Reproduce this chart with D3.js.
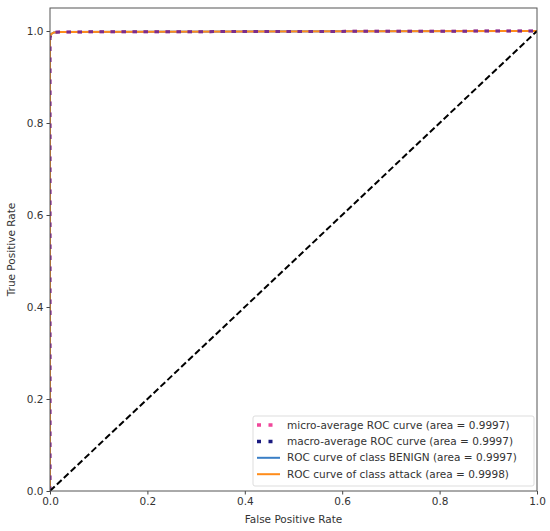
<!DOCTYPE html>
<html>
<head>
<meta charset="utf-8">
<script src="https://cdn.jsdelivr.net/npm/d3@7"></script>
<style>
  body { margin: 0; background: #fff; }
  text { font-family: "DejaVu Sans", sans-serif; fill: #333; }
</style>
</head>
<body>
<svg id="roc"></svg>
<script>
// ROC points
const fprMicro = [0, 0, 0.002, 0.008, 0.02, 1];
const tprMicro = [0, 0.985, 0.993, 0.997, 0.998, 1];
const fprMacro = [0, 0, 0.002, 0.008, 0.02, 1];
const tprMacro = [0, 0.985, 0.993, 0.997, 0.998, 1];
const fprBenign = [0, 0, 0.002, 0.008, 0.02, 1];
const tprBenign = [0, 0.985, 0.993, 0.997, 0.998, 1];
const fprAttack = [0, 0, 0.002, 0.008, 0.02, 1];
const tprAttack = [0, 0.985, 0.993, 0.997, 0.998, 1];
const diagX = [0, 1];
const diagY = [0, 1];
const tickValues = [0, 0.2, 0.4, 0.6, 0.8, 1.0];
const legendLabels = [
  "micro-average ROC curve (area = 0.9997)",
  "macro-average ROC curve (area = 0.9997)",
  "ROC curve of class BENIGN (area = 0.9997)",
  "ROC curve of class attack (area = 0.9998)"
];

const width = 550, height = 531;
const margin = { top: 8, right: 13, bottom: 40, left: 50 };
const plotW = width - margin.left - margin.right;
const plotH = height - margin.top - margin.bottom;

const svg = d3.select("#roc").attr("width", width).attr("height", height);

const x = d3.scaleLinear().domain([0, 1]).range([0, plotW]);
const y = d3.scaleLinear().domain([0, 1.05]).range([plotH, 0]);

const g = svg.append("g").attr("transform", `translate(${margin.left},${margin.top})`);

const line = d3.line().x(d => x(d[0])).y(d => y(d[1]));
const zip = (a, b) => a.map((v, i) => [v, b[i]]);

const series = [
  { pts: zip(fprBenign, tprBenign), color: "#3a7fc6", width: 2, dash: null },
  { pts: zip(fprAttack, tprAttack), color: "#ff8c1a", width: 2, dash: null },
  { pts: zip(fprMicro, tprMicro), color: "#f0479b", width: 3, dash: "4.5,6.5" },
  { pts: zip(fprMacro, tprMacro), color: "#1a1a80", width: 3, dash: "4.5,6.5", opacity: 0.55 }
];

g.append("defs").append("clipPath").attr("id", "clip")
  .append("rect").attr("width", plotW).attr("height", plotH);

const curves = g.append("g").attr("clip-path", "url(#clip)");
series.forEach(s => {
  curves.append("path")
    .attr("d", line(s.pts))
    .attr("fill", "none")
    .attr("stroke", s.color)
    .attr("stroke-width", s.width)
    .attr("stroke-dasharray", s.dash)
    .attr("stroke-opacity", s.opacity || 1);
});

// chance line
curves.append("path")
  .attr("d", line(zip(diagX, diagY)))
  .attr("fill", "none")
  .attr("stroke", "#000")
  .attr("stroke-width", 2)
  .attr("stroke-dasharray", "6.5,3");

// axes
const xAxis = d3.axisBottom(x).tickValues(tickValues).tickFormat(d3.format(".1f")).tickSize(3.5).tickPadding(3);
const yAxis = d3.axisLeft(y).tickValues(tickValues).tickFormat(d3.format(".1f")).tickSize(3.5).tickPadding(3);

const gx = g.append("g").attr("transform", `translate(0,${plotH})`).call(xAxis);
const gy = g.append("g").call(yAxis);
[gx, gy].forEach(a => {
  a.select(".domain").remove();
  a.selectAll("line").attr("stroke", "#444");
  a.selectAll("text").style("font-size", "10.5px").attr("fill", "#333");
});

// frame
g.append("rect")
  .attr("width", plotW).attr("height", plotH)
  .attr("fill", "none").attr("stroke", "#555").attr("stroke-width", 1);

g.append("text")
  .attr("x", plotW / 2).attr("y", plotH + 32)
  .attr("text-anchor", "middle").style("font-size", "10.5px")
  .text("False Positive Rate");

g.append("text")
  .attr("transform", `translate(${-35},${plotH / 2}) rotate(-90)`)
  .attr("text-anchor", "middle").style("font-size", "10.5px")
  .text("True Positive Rate");

// legend
const legend = g.append("g").attr("transform", `translate(${253 - margin.left},${416 - margin.top})`);
legend.append("rect")
  .attr("width", 281).attr("height", 70).attr("rx", 2)
  .attr("fill", "#fff").attr("fill-opacity", 0.8)
  .attr("stroke", "#ddd");

const legendItems = [
  { color: "#f0479b", width: 3.5, dash: "4,7.5", x2: 20 },
  { color: "#1a1a80", width: 3.5, dash: "4,7.5", x2: 20 },
  { color: "#3a7fc6", width: 2, dash: null, x2: 27 },
  { color: "#ff8c1a", width: 2, dash: null, x2: 27 }
];
legendItems.forEach((s, i) => {
  const ry = 9 + i * 16.4;
  legend.append("line")
    .attr("x1", 4).attr("x2", s.x2).attr("y1", ry).attr("y2", ry)
    .attr("stroke", s.color).attr("stroke-width", s.width)
    .attr("stroke-dasharray", s.dash);
  legend.append("text")
    .attr("x", 34).attr("y", ry).attr("dy", "0.35em")
    .style("font-size", "10.5px")
    .text(legendLabels[i]);
});
</script>
</body>
</html>
